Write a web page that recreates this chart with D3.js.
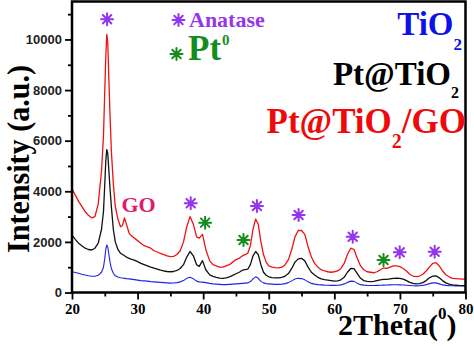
<!DOCTYPE html>
<html>
<head>
<meta charset="utf-8">
<script src="https://cdn.jsdelivr.net/npm/d3@7"></script>
<style>
  body { margin: 0; background: #fff; }
</style>
</head>
<body>
<script>
// 2theta grid (degrees), finer around the sharp peaks
const theta = [
  20, 20.5, 21, 21.5, 22, 22.5, 23, 23.5, 24, 24.5,
  24.8, 25.0, 25.15, 25.3, 25.45, 25.6, 25.8, 26.0, 26.3, 26.6,
  27.0, 27.4, 27.7, 28.0, 28.3, 28.7, 29.0, 29.5, 30, 30.5,
  31, 31.5, 32, 32.5, 33, 33.5, 34, 34.5, 35, 35.5,
  36, 36.5, 37, 37.5, 38, 38.5, 39, 39.4, 39.9, 40.4,
  41, 41.5, 42, 42.5, 43, 43.5, 44, 44.5, 45, 45.5,
  46, 46.4, 46.8, 47.2, 47.6, 48.0, 48.4, 48.8, 49.2, 49.6,
  50, 50.5, 51, 51.5, 52, 52.5, 53, 53.5, 54, 54.5,
  55, 55.5, 56, 56.5, 57, 57.5, 58, 58.5, 59, 59.5,
  60, 60.5, 61, 61.5, 62, 62.5, 63, 63.5, 64, 64.5,
  65, 65.5, 66, 66.5, 67, 67.5, 68, 68.5, 69, 69.5,
  70, 70.5, 71, 71.5, 72, 72.5, 73, 73.5, 74, 74.5,
  75, 75.5, 76, 76.5, 77, 77.5, 78, 78.5, 79, 79.5,
  80
];

// TiO2 (blue)
const tio2 = [
  820, 790, 760, 720, 690, 660, 640, 640, 680, 800,
  1000, 1350, 1700, 1880, 1800, 1550, 1200, 950, 760, 660,
  610, 580, 570, 560, 550, 540, 530, 510, 490, 470,
  460, 450, 430, 420, 410, 400, 390, 380, 370, 375,
  390, 420, 470, 560, 600, 540, 450, 420, 410, 390,
  360, 340, 330, 320, 310, 310, 320, 330, 340, 350,
  360, 370, 380, 430, 540, 620, 560, 440, 380, 350,
  340, 330, 320, 320, 330, 350, 390, 460, 530, 560,
  550, 500, 420, 360, 330, 310, 300, 290, 285, 280,
  280, 285, 300, 340, 400, 450, 440, 370, 310, 290,
  280, 275, 275, 280, 285, 290, 295, 300, 305, 305,
  300, 295, 285, 275, 265, 260, 265, 280, 310, 350,
  380, 380, 340, 300, 280, 270, 265, 262, 260, 258,
  258
];

// Pt@TiO2 (black)
const ptTio2 = [
  2270, 2100, 1950, 1850, 1750, 1700, 1680, 1750, 1950, 2500,
  3200, 4300, 5200, 5650, 5500, 4900, 4100, 3400, 2500, 2000,
  1700, 1550, 1500, 1450, 1400, 1350, 1320, 1280, 1220, 1150,
  1100, 1050, 1000, 960, 920, 880, 850, 830, 820, 830,
  870, 950, 1100, 1400, 1620, 1450, 1100, 1030, 1260, 900,
  700, 640, 600, 570, 560, 580, 620, 680, 740, 800,
  880, 900, 920, 1100, 1450, 1620, 1500, 1100, 800, 680,
  620, 590, 580, 580, 600, 650, 750, 950, 1200, 1330,
  1350, 1250, 1000, 800, 690, 600, 540, 510, 490, 470,
  450, 460, 500, 600, 800, 950, 940, 750, 560, 470,
  440, 430, 440, 470, 500, 520, 520, 540, 560, 570,
  560, 530, 470, 400, 360, 340, 350, 390, 470, 580,
  650, 660, 580, 470, 380, 330, 300, 290, 280, 275,
  270
];

// Pt@TiO2/GO (red)
const ptTio2Go = [
  4100, 3850, 3600, 3400, 3200, 3050, 2950, 3000, 3500, 4800,
  6200, 8000, 9300, 10200, 9900, 8600, 7000, 5600, 4300, 3400,
  2900, 2600, 2650, 2950, 2700, 2350, 2250, 2150, 2050, 1950,
  1850, 1800, 1750, 1650, 1600, 1550, 1500, 1450, 1420, 1430,
  1500, 1650, 2000, 2600, 3000, 2700, 2200, 2150, 2300, 1700,
  1250, 1100, 1050, 1000, 1000, 1050, 1100, 1200, 1300, 1350,
  1450, 1500, 1550, 1850, 2500, 2900, 2700, 2000, 1500, 1200,
  1050, 1000, 980, 970, 1000, 1100, 1300, 1700, 2200, 2450,
  2450, 2300, 1800, 1400, 1150, 1000, 900, 850, 820, 800,
  820, 850, 950, 1150, 1500, 1750, 1700, 1350, 1050, 900,
  820, 800, 780, 820, 900, 970, 950, 1000, 1050, 1050,
  1020, 950, 850, 720, 650, 630, 650, 720, 850, 1000,
  1150, 1180, 1050, 850, 700, 620, 560, 550, 540, 530,
  530
];

// peak markers (2theta, intensity where the star sits)
const anataseTheta = [25.35, 38.1, 48.2, 54.55, 62.8, 69.97, 75.3];
const anataseLevel = [10800, 3530, 3420, 3060, 2205, 1590, 1610];
const ptTheta = [40.3, 46.15, 67.5];
const ptLevel = [2760, 2075, 1285];

const xMajor = [20, 30, 40, 50, 60, 70, 80];
const xMinor = [25, 35, 45, 55, 65, 75];
const yMajor = [0, 2000, 4000, 6000, 8000, 10000];
const yMinor = [1000, 3000, 5000, 7000, 9000, 11000];

const width = 474;
const height = 348;
const marginTop = 1.5;
const marginRight = 8.5;
const marginBottom = 55.5;
const marginLeft = 72;

const purple = "#9436ec";
const green = "#178c1e";
const serifFont = "Liberation Serif";
const sansFont = "Liberation Sans";

const x = d3.scaleLinear()
    .domain([20, 80])
    .range([marginLeft, width - marginRight]);

const y = d3.scaleLinear()
    .domain([0, 11500])
    .range([height - marginBottom, marginTop]);

const svg = d3.create("svg")
    .attr("width", width)
    .attr("height", height)
    .attr("viewBox", `0 0 ${width} ${height}`);

svg.append("rect")
    .attr("width", width)
    .attr("height", height)
    .attr("fill", "#fff");

// curves
const series = [
    { values: tio2, color: "#2222e6", w: 1.1 },
    { values: ptTio2, color: "#111", w: 1.3 },
    { values: ptTio2Go, color: "#f01212", w: 1.3 }
];

const line = d3.line()
    .x(d => x(d[0]))
    .y(d => y(d[1]));

series.forEach(s => {
    svg.append("path")
        .datum(theta.map((t, i) => [t, s.values[i]]))
        .attr("fill", "none")
        .attr("stroke", s.color)
        .attr("stroke-width", s.w)
        .attr("stroke-linejoin", "round")
        .attr("d", line);
});

// axes
const xAxis = svg.append("g")
    .attr("transform", `translate(0,${height - marginBottom})`)
    .call(d3.axisBottom(x).tickValues(xMajor).tickSize(7).tickSizeOuter(0).tickPadding(4).tickFormat(d3.format("d")));
svg.append("g")
    .attr("transform", `translate(0,${height - marginBottom})`)
    .call(d3.axisBottom(x).tickValues(xMinor).tickSize(4).tickSizeOuter(0).tickFormat(""));

const yAxis = svg.append("g")
    .attr("transform", `translate(${marginLeft},0)`)
    .call(d3.axisLeft(y).tickValues(yMajor).tickSize(7).tickSizeOuter(0).tickPadding(3).tickFormat(d3.format("d")));
svg.append("g")
    .attr("transform", `translate(${marginLeft},0)`)
    .call(d3.axisLeft(y).tickValues(yMinor).tickSize(4).tickSizeOuter(0).tickFormat(""));

svg.selectAll(".domain").remove();
svg.selectAll(".tick line").attr("stroke", "#000").attr("stroke-width", 1.8);

xAxis.attr("font-family", serifFont).attr("font-size", 15).attr("font-weight", "bold");
xAxis.selectAll("text").attr("fill", "#000");

yAxis.attr("font-family", sansFont).attr("font-size", 13).attr("font-weight", "bold");
yAxis.selectAll("text").attr("fill", "#222");

// frame
svg.append("rect")
    .attr("x", marginLeft)
    .attr("y", marginTop)
    .attr("width", width - marginRight - marginLeft)
    .attr("height", height - marginBottom - marginTop)
    .attr("fill", "none")
    .attr("stroke", "#000")
    .attr("stroke-width", 2.5);

// asterisk marker
function star(g, cx, cy, r, color) {
    const p = d3.path();
    for (let k = 0; k < 4; k++) {
        const a = k * Math.PI / 4;
        p.moveTo(cx - r * Math.cos(a), cy - r * Math.sin(a));
        p.lineTo(cx + r * Math.cos(a), cy + r * Math.sin(a));
    }
    g.append("path")
        .attr("d", p.toString())
        .attr("stroke", color)
        .attr("stroke-width", 2)
        .attr("stroke-linecap", "round");
}

const stars = svg.append("g");
anataseTheta.forEach((t, i) => star(stars, x(t), y(anataseLevel[i]), 6, purple));
ptTheta.forEach((t, i) => star(stars, x(t), y(ptLevel[i]), 6, green));

// marker legend
star(stars, 178.5, 20, 6, purple);
star(stars, 176.5, 54, 6, green);

// all remaining texts: bold serif
const labels = svg.append("g")
    .attr("font-family", serifFont)
    .attr("font-weight", "bold");

labels.append("text")
    .attr("x", 189)
    .attr("y", 26.7)
    .attr("font-size", 22)
    .attr("fill", purple)
    .text("Anatase");

const ptLabel = labels.append("text")
    .attr("x", 188)
    .attr("y", 60)
    .attr("fill", green);
ptLabel.append("tspan").attr("font-size", 35).text("Pt");
ptLabel.append("tspan").attr("dy", -15).attr("dx", 1).attr("font-size", 15).text("0");

// GO note
labels.append("text")
    .attr("x", 121.5)
    .attr("y", 211.7)
    .attr("font-size", 22)
    .attr("fill", "#e3196a")
    .text("GO");

// sample legend
function sampleLabel(xEnd, yBase, color) {
    return labels.append("text")
        .attr("x", xEnd)
        .attr("y", yBase)
        .attr("text-anchor", "end")
        .attr("fill", color);
}

const tLabel = sampleLabel(462, 35, "#1010e8");
tLabel.append("tspan").attr("font-size", 33).text("TiO");
tLabel.append("tspan").attr("dy", 15).attr("font-size", 17).text("2");

const pLabel = sampleLabel(459, 85, "#000");
pLabel.append("tspan").attr("font-size", 33).text("Pt@TiO");
pLabel.append("tspan").attr("dy", 13).attr("font-size", 16).text("2");

const gLabel = sampleLabel(466, 133.3, "#ee0a0a");
gLabel.append("tspan").attr("font-size", 35).text("Pt@TiO");
gLabel.append("tspan").attr("dy", 14.7).attr("font-size", 20).text("2");
gLabel.append("tspan").attr("dy", -14.7).attr("font-size", 35).text("/GO");

// axis titles
const xTitle = labels.append("text")
    .attr("x", 338)
    .attr("y", 335)
    .attr("fill", "#000");
xTitle.append("tspan").attr("font-size", 30).text("2Theta(");
xTitle.append("tspan").attr("dy", -16).attr("font-size", 17).text("0");
xTitle.append("tspan").attr("dy", 16).attr("font-size", 30).text(")");

labels.append("text")
    .attr("transform", "translate(28.5,159) rotate(-90)")
    .attr("text-anchor", "middle")
    .attr("textLength", 188)
    .attr("lengthAdjust", "spacingAndGlyphs")
    .attr("font-size", 31)
    .attr("fill", "#000")
    .text("Intensity (a.u.)");

document.body.appendChild(svg.node());
</script>
</body>
</html>
